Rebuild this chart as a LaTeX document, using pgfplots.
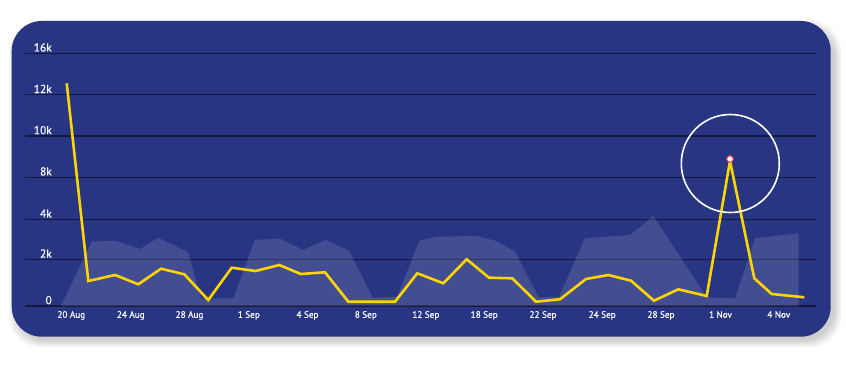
\documentclass[border=0pt]{standalone}
\usepackage{pgfplots}
\pgfplotsset{compat=1.18}
\usepackage{fontspec}
\setmainfont{PT Sans}
\newfontfamily\labfont[FakeBold=0.5]{PT Sans}
\definecolor{panel}{HTML}{283582}
\definecolor{gridc}{HTML}{14183F}
\definecolor{lineyel}{HTML}{FFD500}
\definecolor{markred}{HTML}{E8385A}
\begin{document}
\begin{tikzpicture}[x=1pt,y=1pt]
\fill[white] (0,0) rectangle (846,365);
\foreach \i in {1,...,8} {
  \fill[black, opacity=0.022, rounded corners=32pt] ({11.7-\i+5},{28.3-\i-3}) rectangle ({830.7+\i+3},{344+\i-7});
}
\fill[panel, rounded corners=30pt] (11.7,28.3) rectangle (830.7,344);
\begin{axis}[
  at={(25pt,59pt)}, anchor=south west,
  scale only axis, width=791pt, height=252.7pt,
  xmin=25, xmax=816, ymin=0, ymax=252.7,
  clip=false,
  axis line style={draw=none},
  major tick length=0pt,
  ymajorgrids,
  grid style={gridc, line width=1.4pt},
  ytick={0,46.7,86.7,128.7,170,211.3,252.7},
  yticklabels={0,2k,4k,8k,10k,12k,16k},
  xtick={71.3,130.8,189.5,248.8,307.5,365.8,425.8,484.2,543,602.2,661,720.5,778.8},
  xticklabels={20 Aug,24 Aug,28 Aug,1 Sep,4 Sep,8 Sep,12 Sep,18 Sep,22 Sep,24 Sep,28 Sep,1 Nov,4 Nov},
  yticklabel style={anchor=south east, inner sep=0pt, xshift=27pt, yshift=1.5pt, font=\labfont\fontsize{11.5}{12}\selectfont, text=white},
  xticklabel style={anchor=north, inner sep=0pt, yshift=-5pt, font=\labfont\fontsize{9.2}{10}\selectfont, text=white},
]
\addplot[draw=none, fill=white, fill opacity=0.125] coordinates {
(61,0) (91.7,64.3) (115,65.3) (140,57) (158.3,68.3) (188.3,53.7) (201,7.7) (233.3,7.7)
(255,66) (279.3,67.7) (303.3,56) (325.7,66) (349,55.3) (372.7,8.3) (397.3,9.3)
(419.3,65.3) (436.7,69.3) (476.7,70) (495,65.3) (515,54.3) (538.7,8.7) (559,9.3)
(585,67.7) (630,71) (653.3,90) (706.7,8.7) (735,7.7) (755,67.7) (798.7,72.7) (798.7,0)
} -- cycle;
\addplot[lineyel, line width=2.6pt, line join=miter] coordinates {
(66.7,222.7) (88.3,25) (115,31) (138.3,21.7) (161,37.3) (184.3,31.7) (208.3,6)
(231.7,38.3) (255.7,35) (279.3,41) (300.7,32) (325,33.7) (348.3,4.3) (371.7,4.3)
(395,4.3) (417.3,32.7) (443.3,22.7) (466.7,46.7) (489,28.3) (512.3,27.7) (536,4.3)
(560,6.7) (586,27) (608.3,31) (631,25.3) (654,5.3) (678.3,16.7) (706.7,10)
(730,145) (754.3,27.7) (771.7,12) (804.3,8.7)
};
\addplot[only marks, mark=o, mark size=49pt, draw=white, line width=1.6pt] coordinates {(730.3,142.5)};
\addplot[only marks, mark=*, mark size=3.3pt, draw=markred, fill=white, line width=1pt] coordinates {(730,147)};
\end{axis}
\end{tikzpicture}
\end{document}
